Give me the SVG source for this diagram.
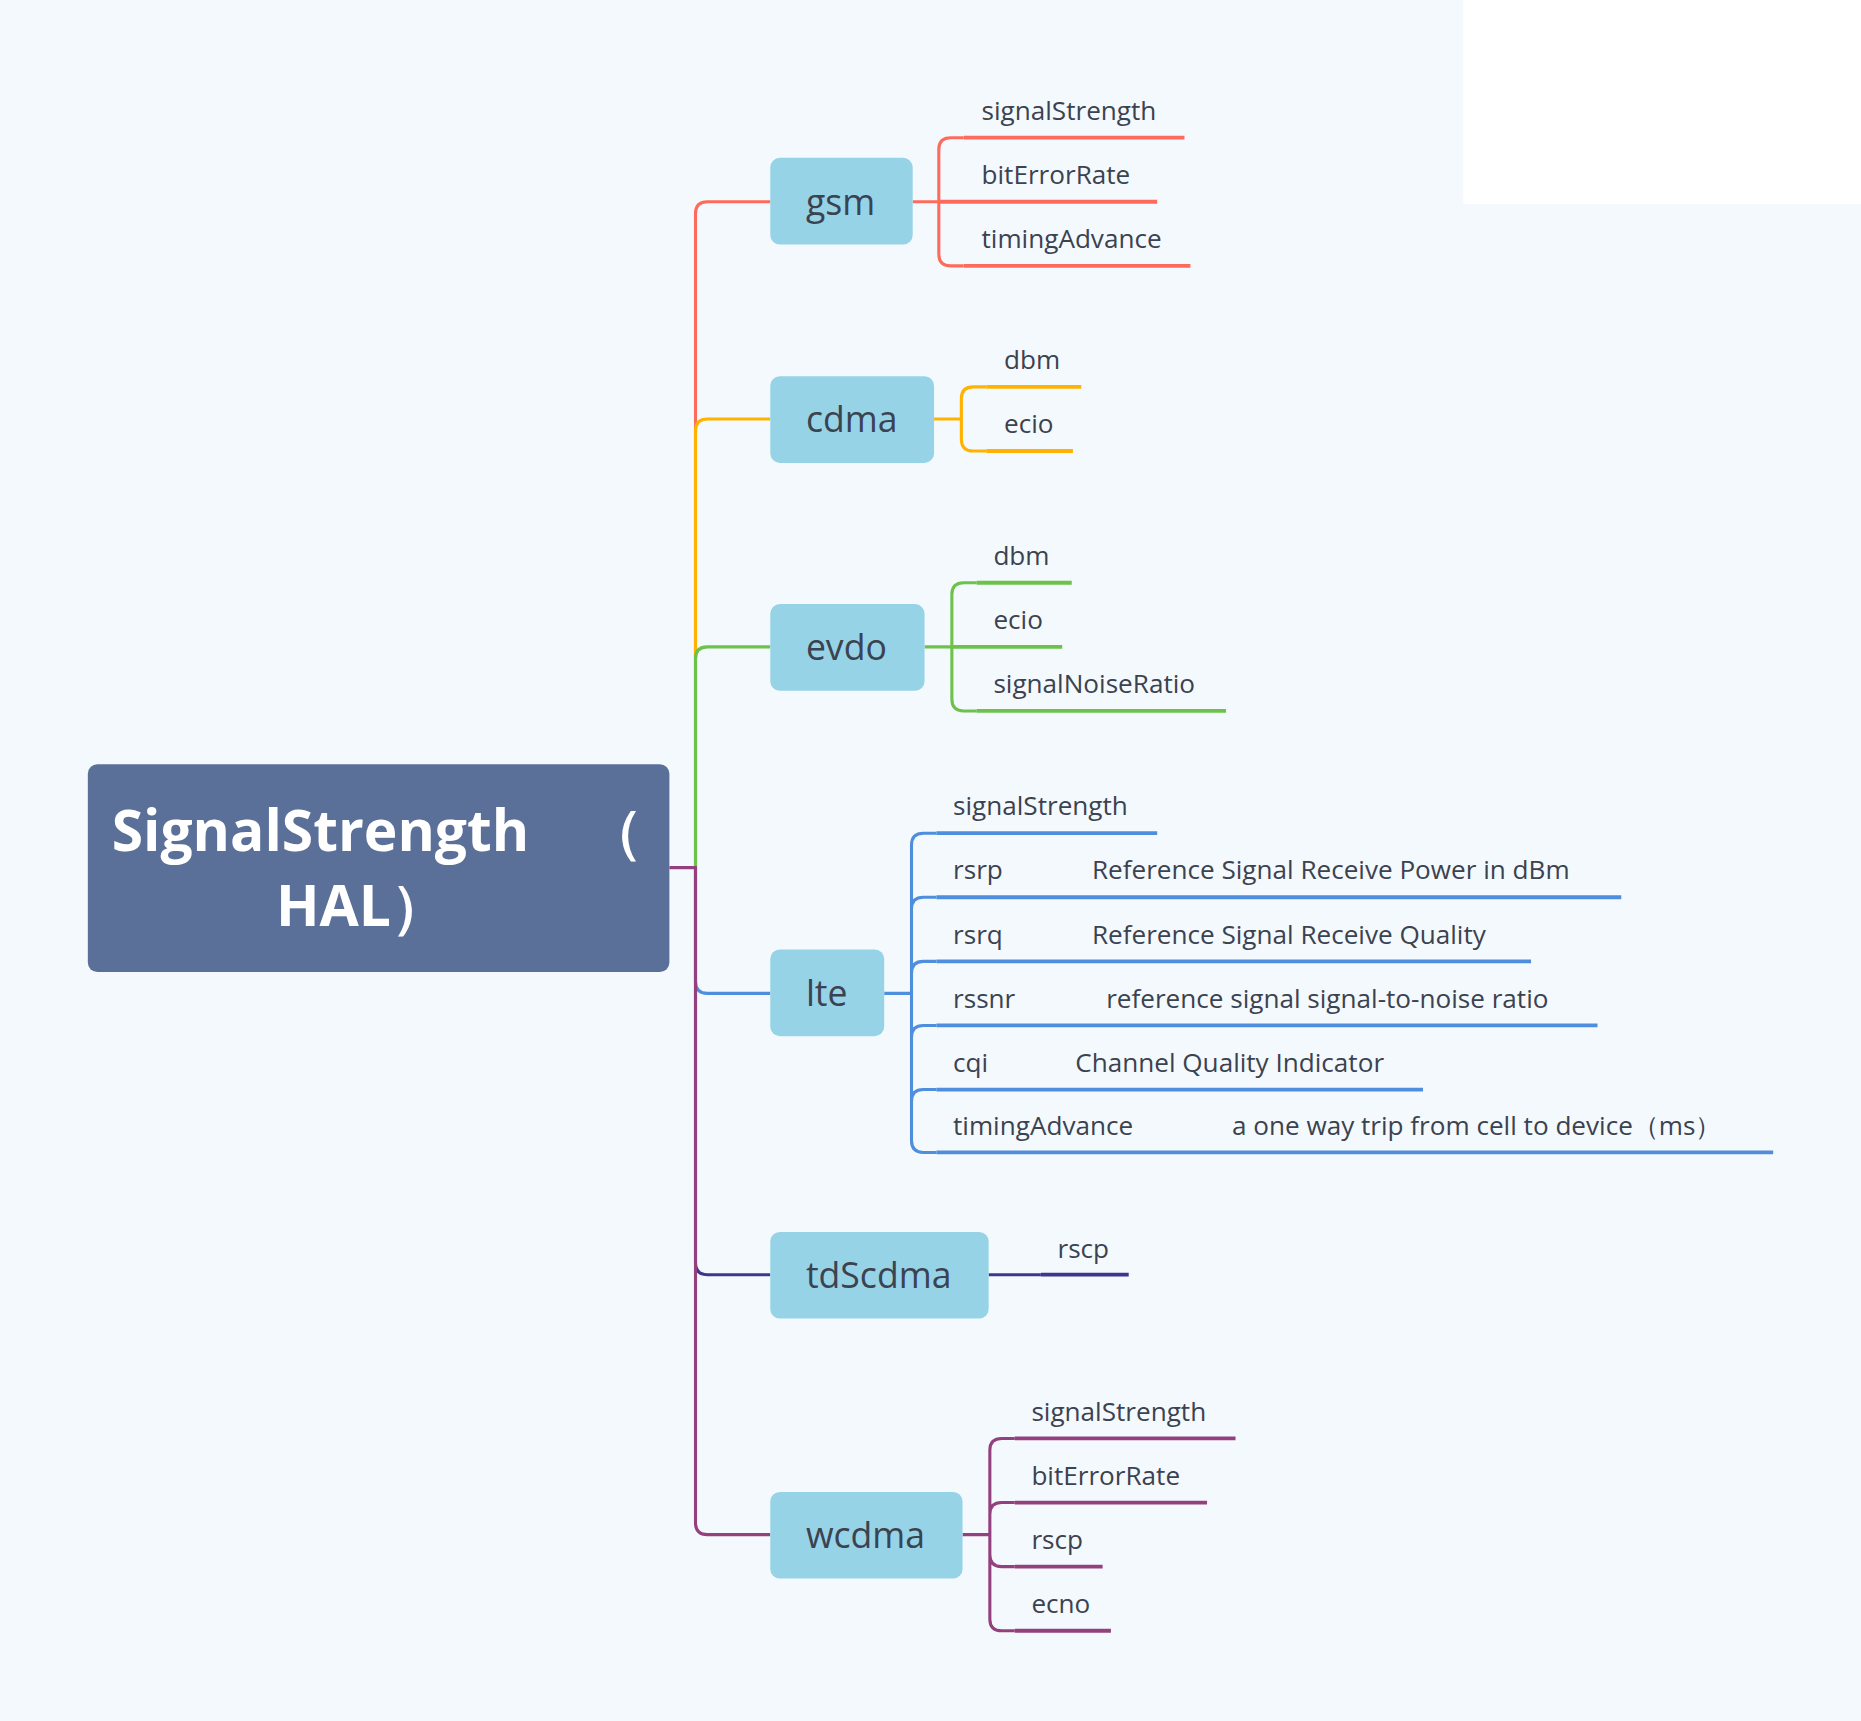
<svg xmlns="http://www.w3.org/2000/svg" width="1861" height="1721" viewBox="0 0 1861 1721">
<style>
.n{fill:#97D3E7}
.nt{font-family:"Open Sans",sans-serif;font-size:30px;fill:#3b4250}
.lt{font-family:"Open Sans",sans-serif;font-size:22px;fill:#3b4250}
.c{fill:none;stroke-width:2.6;stroke-linecap:butt}
.l{fill:none;stroke-width:3.2}
</style>
<rect width="1861" height="1721" fill="#F4F9FD"/>
<g transform="scale(1.18686)">
<rect x="1233" y="0" width="335" height="172" fill="#FFFFFF"/>
<g id="connectors">
<path class="c" stroke="#FF6B5B" d="M586,731 V180 Q586,170 596,170 H649"/>
<path class="c" stroke="#FFB300" d="M586,731 V363 Q586,353 596,353 H649"/>
<path class="c" stroke="#6CC24A" d="M586,731 V555 Q586,545 596,545 H649"/>
<path class="c" stroke="#4F8EDC" d="M586,731 V827 Q586,837 596,837 H649"/>
<path class="c" stroke="#3F3590" d="M586,731 V1064 Q586,1074 596,1074 H649"/>
<path class="c" stroke="#94407F" d="M564,731 H586 V1283 Q586,1293 596,1293 H649"/>
<g stroke="#FF6B5B">
<path class="c" d="M769,170 H791 M791,170 V126 Q791,116 801,116 H812 M791,170 V214 Q791,224 801,224 H812"/>
<path class="l" d="M812,116 H998 M791,170 H975 M812,224 H1003"/>
</g>
<g stroke="#FFB300">
<path class="c" d="M787,353 H810 M810,353 V336 Q810,326 820,326 H831 M810,353 V370 Q810,380 820,380 H831"/>
<path class="l" d="M831,326 H911 M831,380 H904"/>
</g>
<g stroke="#6CC24A">
<path class="c" d="M779,545 H802 M802,545 V501 Q802,491 812,491 H823 M802,545 V589 Q802,599 812,599 H823"/>
<path class="l" d="M823,491 H903 M802,545 H895 M823,599 H1033"/>
</g>
<g stroke="#4F8EDC">
<path class="c" d="M745,837 H768 M768,837 V712 Q768,702 778,702 H789 M768,837 V961 Q768,971 778,971 H789 M768,766 Q768,756 778,756 H789 M768,820 Q768,810 778,810 H789 M768,874 Q768,864 778,864 H789 M768,928 Q768,918 778,918 H789"/>
<path class="l" d="M789,702 H975 M789,756 H1366 M789,810 H1290 M789,864 H1346 M789,918 H1199 M789,971 H1494"/>
</g>
<g stroke="#3F3590">
<path class="c" d="M833,1074 H877"/>
<path class="l" d="M877,1074 H951"/>
</g>
<g stroke="#94407F">
<path class="c" d="M811,1293 H834 M834,1293 V1222 Q834,1212 844,1212 H855 M834,1293 V1364 Q834,1374 844,1374 H855 M834,1276 Q834,1266 844,1266 H855 M834,1310 Q834,1320 844,1320 H855"/>
<path class="l" d="M855,1212 H1041 M855,1266 H1017 M855,1320 H929 M855,1374 H936"/>
</g>
</g>
<g id="root">
<rect x="74" y="644" width="490" height="175" rx="8" fill="#5A7099"/>
<text x="318" y="717" text-anchor="middle" font-family="'Open Sans',sans-serif" font-size="48" font-weight="bold" fill="#FFFFFF" xml:space="preserve">SignalStrength　（</text>
<text x="305" y="780" text-anchor="middle" font-family="'Open Sans',sans-serif" font-size="48" font-weight="bold" fill="#FFFFFF">HAL）</text>
</g>
<g id="gsm"><rect class="n" x="649" y="133" width="120" height="73" rx="8"/><text class="nt" x="679" y="181">gsm</text>
<text class="lt" x="827" y="101">signalStrength</text><text class="lt" x="827" y="155">bitErrorRate</text><text class="lt" x="827" y="209">timingAdvance</text></g>
<g id="cdma"><rect class="n" x="649" y="317" width="138" height="73" rx="8"/><text class="nt" x="679" y="364">cdma</text>
<text class="lt" x="846" y="311">dbm</text><text class="lt" x="846" y="365">ecio</text></g>
<g id="evdo"><rect class="n" x="649" y="509" width="130" height="73" rx="8"/><text class="nt" x="679" y="556">evdo</text>
<text class="lt" x="837" y="476">dbm</text><text class="lt" x="837" y="530">ecio</text><text class="lt" x="837" y="584">signalNoiseRatio</text></g>
<g id="lte"><rect class="n" x="649" y="800" width="96" height="73" rx="8"/><text class="nt" x="679" y="848">lte</text>
<text class="lt" x="803" y="687">signalStrength</text>
<text class="lt" x="803" y="741">rsrp</text><text class="lt" x="920" y="741">Reference Signal Receive Power in dBm</text>
<text class="lt" x="803" y="795">rsrq</text><text class="lt" x="920" y="795">Reference Signal Receive Quality</text>
<text class="lt" x="803" y="849">rssnr</text><text class="lt" x="932" y="849">reference signal signal-to-noise ratio</text>
<text class="lt" x="803" y="903">cqi</text><text class="lt" x="906" y="903">Channel Quality Indicator</text>
<text class="lt" x="803" y="956">timingAdvance</text><text class="lt" x="1038" y="956" xml:space="preserve">a one way trip from cell to device（ms）</text></g>
<g id="tdScdma"><rect class="n" x="649" y="1038" width="184" height="73" rx="8"/><text class="nt" x="679" y="1085">tdScdma</text>
<text class="lt" x="891" y="1060">rscp</text></g>
<g id="wcdma"><rect class="n" x="649" y="1257" width="162" height="73" rx="8"/><text class="nt" x="679" y="1304">wcdma</text>
<text class="lt" x="869" y="1197">signalStrength</text><text class="lt" x="869" y="1251">bitErrorRate</text><text class="lt" x="869" y="1305">rscp</text><text class="lt" x="869" y="1359">ecno</text></g>
</g>
</svg>
